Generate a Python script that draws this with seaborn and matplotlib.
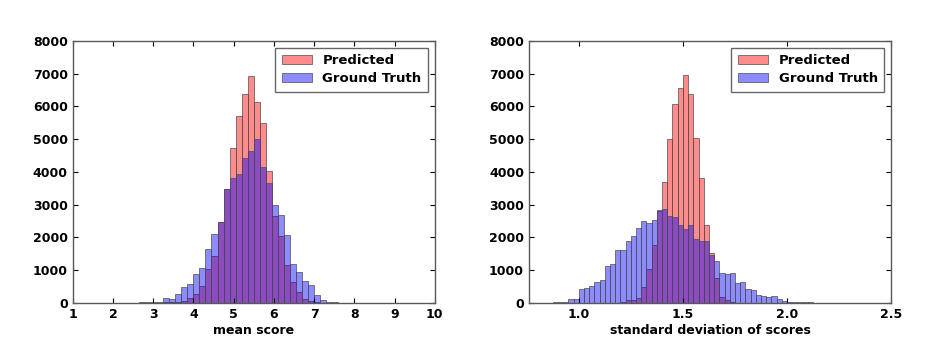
import numpy as np
import pandas as pd
import matplotlib
matplotlib.use("Agg")
import matplotlib.pyplot as plt
import seaborn as sns

# histogram counts
mean_bin_start = 2.05
mean_bin_width = 0.15
pred_mean_counts = [0, 0, 0, 0, 0, 0, 0, 0, 20, 30, 40, 70, 150, 280, 520, 1040,
                    1430, 2470, 3480, 4730, 5700, 6390, 6930, 6130, 5490, 4040,
                    2660, 2050, 1150, 650, 330, 130, 50, 20, 0, 0, 0, 0]
gt_mean_counts = [10, 0, 0, 0, 20, 30, 30, 40, 150, 110, 280, 480, 590, 880, 1080,
                  1650, 2120, 2460, 3470, 3800, 3930, 4420, 4640, 5000, 4160, 3670,
                  2980, 2690, 2090, 1180, 940, 680, 555, 240, 80, 40, 20, 10]

std_bin_start = 0.875
std_bin_width = 0.025
pred_std_counts = [0, 0, 0, 0, 0, 0, 0, 0, 0, 0, 0, 0, 0, 30, 80, 90, 140, 480,
                   1030, 1760, 2800, 3690, 5010, 6080, 6560, 6970, 6390, 5030,
                   3830, 2370, 1530, 770, 190, 90, 40, 0, 0, 0, 0, 0, 0, 0, 0, 0,
                   0, 0, 0, 0, 0, 0, 0, 0, 0, 0]
gt_std_counts = [20, 20, 40, 110, 110, 420, 450, 520, 650, 700, 1130, 1200, 1630,
                 1630, 1900, 2030, 2290, 2510, 2440, 2530, 2850, 2870, 2670, 2630,
                 2390, 2250, 2390, 1950, 1880, 1880, 1470, 1270, 925, 880, 915, 615,
                 640, 430, 395, 230, 210, 185, 200, 130, 60, 40, 30, 20, 20, 20, 10,
                 10, 10, 10]

y_ticks = [0, 1000, 2000, 3000, 4000, 5000, 6000, 7000, 8000]

plt.rcParams.update({
    "font.weight": "bold",
    "axes.labelweight": "bold",
    "font.size": 9,
    "xtick.direction": "in",
    "ytick.direction": "in",
    "xtick.top": True,
    "ytick.right": True,
    "axes.edgecolor": "0.35",
    "axes.linewidth": 1.0,
})


def draw_hist(ax, start, width, pred, gt):
    edges = [start + width * i for i in range(len(pred) + 1)]
    df = pd.DataFrame({"x": [e + width / 2 for e in edges[:-1]], "pred": pred, "gt": gt})
    sns.histplot(data=df, x="x", weights="pred", bins=edges, color="red", alpha=0.45,
                 edgecolor="0.3", linewidth=0.5, label="Predicted", ax=ax)
    sns.histplot(data=df, x="x", weights="gt", bins=edges, color="blue", alpha=0.45,
                 edgecolor="0.3", linewidth=0.5, label="Ground Truth", ax=ax)
    ax.set_ylim(0, 8000)
    ax.set_yticks(y_ticks)
    ax.set_ylabel("")
    leg = ax.legend(loc="upper right", fancybox=False, fontsize=9.5,
                    handlelength=2.3, borderpad=0.5, labelspacing=0.4)
    leg.get_frame().set_edgecolor("0.25")
    leg.get_frame().set_linewidth(1.0)
    for t in leg.get_texts():
        t.set_fontweight("bold")


fig, axes = plt.subplots(1, 2, figsize=(9.32, 3.56), dpi=100)
fig.subplots_adjust(left=0.078, right=0.956, bottom=0.149, top=0.885, wspace=0.26)

draw_hist(axes[0], mean_bin_start, mean_bin_width, pred_mean_counts, gt_mean_counts)
axes[0].set_xlim(1, 10)
axes[0].set_xticks(range(1, 11))
axes[0].set_xlabel("mean score", labelpad=2)

draw_hist(axes[1], std_bin_start, std_bin_width, pred_std_counts, gt_std_counts)
axes[1].set_xlim(0.76, 2.5)
axes[1].set_xticks([1.0, 1.5, 2.0, 2.5])
axes[1].set_xlabel("standard deviation of scores", labelpad=2)

fig.savefig("out.png", dpi=100, facecolor="white")
